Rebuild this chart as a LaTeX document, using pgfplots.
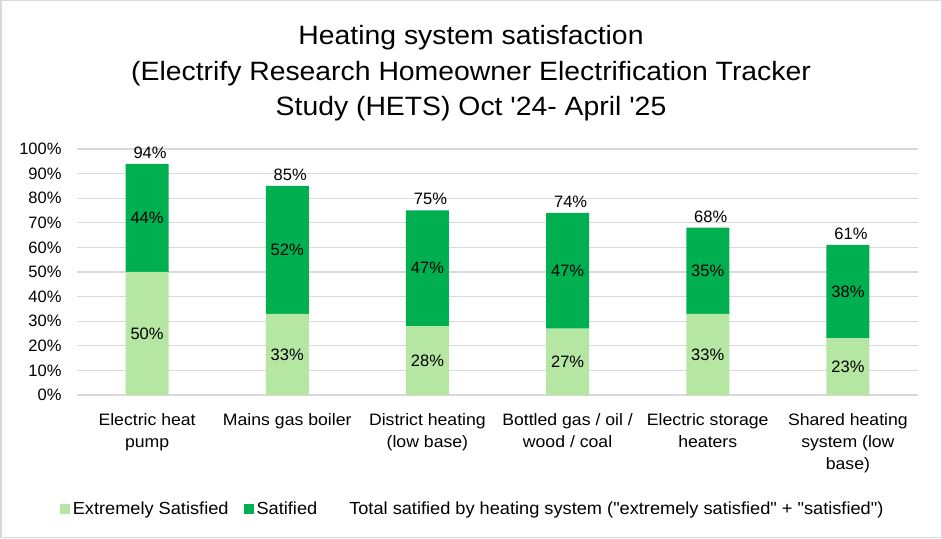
\documentclass[border=0pt]{standalone}
\usepackage{pgfplots}
\pgfplotsset{compat=1.18}
\usepackage{pgfplotstable}
\usepackage{fontspec}
\setmainfont{Liberation Sans}[Ligatures=TeXOff]
\newfontfamily\wide{Liberation Sans}[FakeStretch=1.07, Ligatures=TeXOff]
\newfontfamily\legwide{Liberation Sans}[FakeStretch=1.04, Ligatures=TeXOff]
\definecolor{lightg}{HTML}{B5E6A2}
\definecolor{darkg}{HTML}{00B050}
\definecolor{gridc}{HTML}{D9D9D9}

\pgfplotstableread{
x ext sat total
0 50 44 94
1 33 52 85
2 28 47 75
3 27 47 74
4 33 35 68
5 23 38 61
}\datatable

\begin{document}
\begin{tikzpicture}[x=1pt,y=1pt]
\useasboundingbox (0,0) rectangle (942,538);
\draw[gridc, line width=1.5pt] (0.75,0.75) rectangle (941.25,537.25);
\node[align=center, font=\wide\fontsize{26.5}{35.5}\selectfont] at (471,464.5)
  {Heating system satisfaction\\(Electrify Research Homeowner Electrification Tracker\\Study (HETS) Oct '24- April '25};
\begin{axis}[
  at={(77pt,143pt)}, anchor=south west,
  scale only axis, width=841pt, height=246pt,
  ybar stacked, bar width=43pt,
  xmin=-0.5, xmax=5.5, ymin=0, ymax=100,
  ytick={0,10,...,100},
  yticklabels={0\%,10\%,20\%,30\%,40\%,50\%,60\%,70\%,80\%,90\%,100\%},
  xtick={0,...,5},
  xticklabels={Electric heat\\pump, Mains gas boiler, District heating\\(low base), Bottled gas / oil /\\wood / coal, Electric storage\\heaters, Shared heating\\system (low\\base)},
  xticklabel style={align=center, font=\wide\fontsize{16.5}{22}\selectfont, anchor=north, yshift=-15pt},
  yticklabel style={font=\fontsize{16.5}{19}\selectfont, xshift=-12pt},
  major tick length=0pt,
  axis line style={draw=none},
  ymajorgrids, major grid style={gridc, line width=1.2pt},
  legend columns=3,
  legend style={at={(0.471,-0.463)}, anchor=center, draw=none, fill=none,
    font=\legwide\fontsize{17.5}{20}\selectfont,
    nodes={inner xsep=3pt},
    /tikz/every even column/.append style={column sep=12pt}},
  legend image code/.code={\fill[#1] (0pt,-5pt) rectangle (10pt,5pt);},
  clip=false,
]
\addplot[fill=lightg, draw=none] table[x=x, y=ext] {\datatable};
\addplot[fill=darkg, draw=none] table[x=x, y=sat] {\datatable};
\addlegendentry{Extremely Satisfied}
\addlegendentry{Satified}
\addlegendimage{empty legend}
\addlegendentry{\hspace{14pt}Total satified by heating system ("extremely satisfied" + "satisfied")}
\end{axis}
\begin{axis}[
  at={(77pt,143pt)}, anchor=south west,
  scale only axis, width=841pt, height=246pt,
  xmin=-0.5, xmax=5.5, ymin=0, ymax=100,
  hide axis, clip=false,
  nodes near coords={\pgfmathprintnumber[assume math mode=true]{\pgfplotspointmeta}\%},
  every node near coord/.append style={font=\fontsize{16.5}{19}\selectfont, text=black},
]
\addplot[draw=none, mark=none, point meta=\thisrow{ext},
  every node near coord/.append style={anchor=center}]
  table[x=x, y expr=\thisrow{ext}/2] {\datatable};
\addplot[draw=none, mark=none, point meta=\thisrow{sat},
  every node near coord/.append style={anchor=center}]
  table[x=x, y expr=\thisrow{ext}+\thisrow{sat}/2] {\datatable};
\addplot[draw=none, mark=none, point meta=\thisrow{total},
  every node near coord/.append style={anchor=south, yshift=2pt, xshift=3pt}]
  table[x=x, y=total] {\datatable};
\end{axis}
\end{tikzpicture}
\end{document}
